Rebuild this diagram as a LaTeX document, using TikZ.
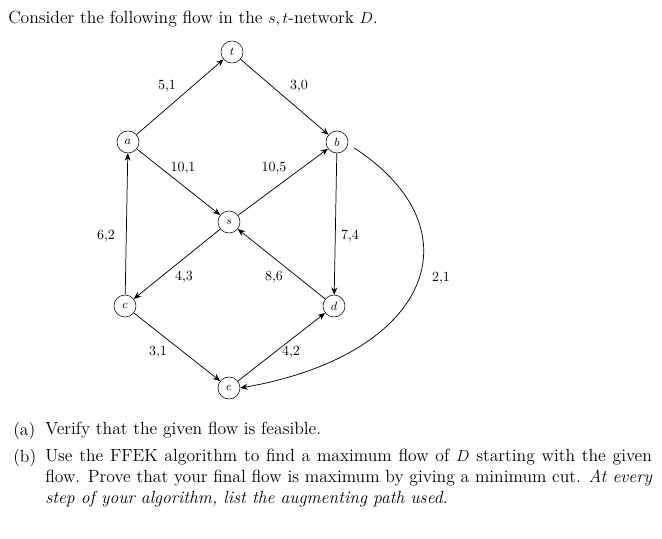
\documentclass[tikz,border=0pt]{standalone}
\usetikzlibrary{arrows.meta}
\begin{document}
\begin{tikzpicture}[x=0.75pt,y=-0.75pt,
  vtx/.style={draw,circle,inner sep=0pt,minimum size=16.5pt,font=\small},
  arc/.style={-{Stealth[length=5.5pt,width=4.5pt]},line width=0.55pt},
  lab/.style={font=\fontsize{10.5}{12}\selectfont,inner sep=1pt},
  txt/.style={anchor=north west,inner sep=0pt,font=\fontsize{13.2}{15.8}\selectfont}]
\useasboundingbox (0,0) rectangle (662,539);
\node[anchor=west,inner sep=0pt,font=\fontsize{13.2}{15}\selectfont] (title) at (8,19) {Consider the following flow in the $s,t$-network $D$.};
\node[vtx] (t) at (232,52) {$t$};
\node[vtx] (a) at (128,142) {$a$};
\node[vtx] (b) at (337,142) {$b$};
\node[vtx] (s) at (229,222) {$s$};
\node[vtx] (c) at (125,306) {$c$};
\node[vtx] (d) at (334,306) {$d$};
\node[vtx] (e) at (229,388) {$e$};
\draw[arc] (a) -- (t);
\draw[arc] (t) -- (b);
\draw[arc] (a) -- (s);
\draw[arc] (s) -- (b);
\draw[arc] (b) -- (d);
\draw[arc] (d) -- (s);
\draw[arc] (s) -- (c);
\draw[arc] (c) -- (a);
\draw[arc] (c) -- (e);
\draw[arc] (e) -- (d);
\draw[arc] (b.east) ++(6,6) coordinate (bb) (bb) .. controls (480,230) and (430,355) .. (e.east);
\node[lab] (l1) at (167,86) {5,1};
\node[lab] (l2) at (299,86) {3,0};
\node[lab] (l3) at (183,168) {10,1};
\node[lab] (l4) at (274,168) {10,5};
\node[lab] (l5) at (350,236) {7,4};
\node[lab] (l6) at (106,236) {6,2};
\node[lab] (l7) at (184,277) {4,3};
\node[lab] (l8) at (274,277) {8,6};
\node[lab] (l9) at (441,278) {2,1};
\node[lab] (l10) at (158,352) {3,1};
\node[lab] (l11) at (291,352) {4,2};
\node[txt] (qa) at (13,422) {(a)};
\node[txt] (ta) at (45,422) {Verify that the given flow is feasible.};
\node[txt] (qb) at (13,449) {(b)};
\node[txt,text width=455pt,align=justify] (tb) at (45,449) {Use the FFEK algorithm to find a maximum flow of $D$ starting with the given flow. Prove that your final flow is maximum by giving a minimum cut. \textit{At every step of your algorithm, list the augmenting path used.}};
\end{tikzpicture}
\end{document}
